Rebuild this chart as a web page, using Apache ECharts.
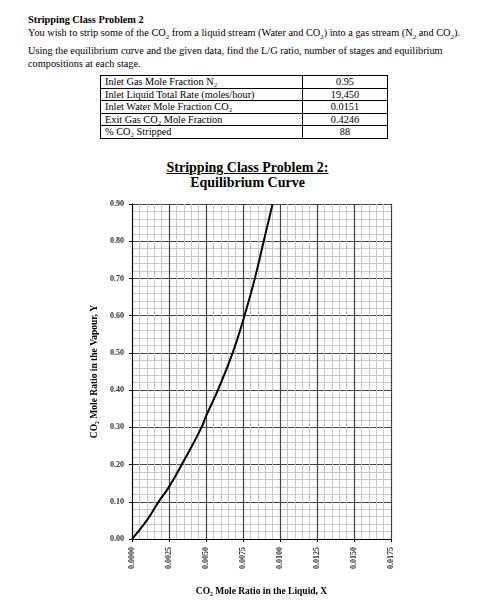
<!DOCTYPE html>
<html><head><meta charset="utf-8">
<script src="https://cdn.jsdelivr.net/npm/echarts@6/dist/echarts.min.js"></script>
<style>
body{margin:0;width:495px;height:602px;background:#fff;font-family:"Liberation Serif",serif;color:#000;position:relative;overflow:hidden}
#txt{position:absolute;left:28px;top:13px;width:450px;font-size:10.3px;line-height:13px}
table{position:absolute;left:100px;top:75px;border-collapse:collapse;font-size:10.3px;line-height:11.5px}
td{border:1px solid #000;padding:0 4px}
td.v{text-align:center;width:76px}
#ttl{position:absolute;left:0;width:495px;top:160px;text-align:center;font-weight:bold;font-size:14px;line-height:15px}
#c{position:absolute;left:0;top:195px;width:495px;height:407px}
</style></head><body>
<div id="txt"><b>Stripping Class Problem 2</b><br>You wish to strip some of the CO<sub style="font-size:7px">2</sub> from a liquid stream (Water and CO<sub style="font-size:7px">2</sub>) into a gas stream (N<sub style="font-size:7px">2</sub> and CO<sub style="font-size:7px">2</sub>). Using the equilibrium curve and the given data, find the L/G ratio, number of stages and equilibrium compositions at each stage.</div>
<table>
<tr><td style="width:193px">Inlet Gas Mole Fraction N₂</td><td class="v">0.95</td></tr>
<tr><td>Inlet Liquid Total Rate (moles/hour)</td><td class="v">19,450</td></tr>
<tr><td>Inlet Water Mole Fraction CO₂</td><td class="v">0.0151</td></tr>
<tr><td>Exit Gas CO₂ Mole Fraction</td><td class="v">0.4246</td></tr>
<tr><td>% CO₂ Stripped</td><td class="v">88</td></tr>
</table>
<div id="ttl"><u>Stripping Class Problem 2:</u><br>Equilibrium Curve</div>
<div id="c"></div>
<script>
const liquidX = [0, 0.0010, 0.0018, 0.0025, 0.0035, 0.0047, 0.0050, 0.0058, 0.0068, 0.0076, 0.0083, 0.0089, 0.0095];
const vapourY = [0, 0.05, 0.10, 0.14, 0.21, 0.30, 0.33, 0.40, 0.50, 0.60, 0.70, 0.80, 0.90];
const chart = echarts.init(document.getElementById('c'));
const lblFont = {fontFamily:'Liberation Serif', fontWeight:'bold', fontSize:8, color:'#333'};
chart.setOption({
  animation:false,
  grid:{left:132, right:104, top:9, bottom:63},
  xAxis:{type:'value', min:0, max:0.0175, interval:0.0025,
    name:'CO₂ Mole Ratio in the Liquid, X', nameLocation:'middle', nameGap:48,
    nameTextStyle:{fontFamily:'Liberation Serif', fontWeight:'bold', fontSize:9.5, color:'#000'},
    axisLine:{lineStyle:{color:'#000'}}, axisTick:{show:true, length:3, lineStyle:{color:'#000'}},
    axisLabel:{...lblFont, rotate:90, formatter:v=>v.toFixed(4)},
    splitLine:{lineStyle:{color:'#444', width:1.2}},
    minorTick:{show:true, splitNumber:5, length:0},
    minorSplitLine:{show:true, lineStyle:{color:'#c8c8c8', width:1}}},
  yAxis:{type:'value', min:0, max:0.9, interval:0.1,
    name:'CO₂ Mole Ratio in the Vapour, Y', nameLocation:'middle', nameGap:32,
    nameTextStyle:{fontFamily:'Liberation Serif', fontWeight:'bold', fontSize:9.5, color:'#000'},
    axisLine:{show:true, lineStyle:{color:'#000'}}, axisTick:{show:true, length:3, lineStyle:{color:'#000'}},
    axisLabel:{...lblFont, formatter:v=>v.toFixed(2)},
    splitLine:{lineStyle:{color:'#444', width:1.2}},
    minorTick:{show:true, splitNumber:5, length:0},
    minorSplitLine:{show:true, lineStyle:{color:'#c8c8c8', width:1}}},
  series:[{type:'line', smooth:true, showSymbol:false, data:liquidX.map((x,i)=>[x, vapourY[i]]),
    lineStyle:{color:'#000', width:2}}]
});
</script>
</body></html>
